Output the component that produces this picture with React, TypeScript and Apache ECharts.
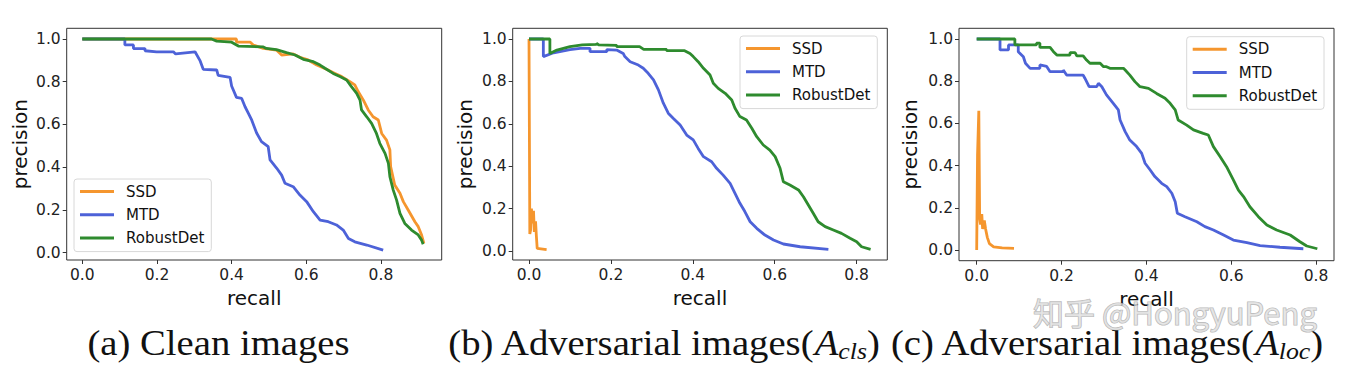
import React, { useEffect, useRef } from "react";
import * as echarts from "echarts";

const seriesNames = ["SSD", "MTD", "RobustDet"];
const xTicks = [0, 0.2, 0.4, 0.6, 0.8];
const yTicks = [0, 0.2, 0.4, 0.6, 0.8, 1.0];
const captions = ["(a) Clean images", "(b) Adversarial images(", "(c) Adversarial images("];
const subscripts = ["", "cls", "loc"];

// panel (a) clean images: [recall, precision]
const cleanSSD = [[0,1],[0.413,1],[0.413,0.985],[0.45,0.985],[0.458,0.972],[0.485,0.956],[0.52,0.948],[0.534,0.925],[0.565,0.93],[0.583,0.914],[0.605,0.902],[0.628,0.878],[0.654,0.858],[0.677,0.839],[0.695,0.824],[0.717,0.8],[0.73,0.785],[0.739,0.754],[0.753,0.714],[0.766,0.668],[0.779,0.636],[0.793,0.621],[0.802,0.558],[0.815,0.527],[0.824,0.481],[0.826,0.403],[0.837,0.317],[0.851,0.278],[0.86,0.239],[0.873,0.2],[0.891,0.145],[0.9,0.122],[0.909,0.083],[0.915,0.044]];
const cleanMTD = [[0,1],[0.114,1],[0.114,0.972],[0.137,0.972],[0.137,0.955],[0.168,0.955],[0.168,0.945],[0.199,0.94],[0.244,0.94],[0.25,0.93],[0.302,0.94],[0.315,0.9],[0.324,0.858],[0.36,0.855],[0.364,0.83],[0.396,0.82],[0.4,0.78],[0.413,0.727],[0.427,0.722],[0.436,0.683],[0.445,0.652],[0.454,0.62],[0.467,0.56],[0.48,0.52],[0.498,0.496],[0.503,0.434],[0.521,0.395],[0.534,0.363],[0.543,0.325],[0.565,0.309],[0.583,0.27],[0.601,0.239],[0.619,0.192],[0.637,0.153],[0.659,0.145],[0.681,0.13],[0.699,0.106],[0.713,0.067],[0.73,0.051],[0.762,0.036],[0.806,0.012]];
const cleanRobust = [[0,1],[0.346,1],[0.36,0.99],[0.4,0.985],[0.418,0.967],[0.485,0.963],[0.493,0.956],[0.52,0.95],[0.547,0.936],[0.57,0.925],[0.592,0.905],[0.619,0.894],[0.637,0.878],[0.65,0.863],[0.672,0.839],[0.69,0.824],[0.708,0.808],[0.721,0.777],[0.735,0.746],[0.744,0.714],[0.748,0.668],[0.762,0.636],[0.775,0.605],[0.788,0.558],[0.797,0.512],[0.811,0.465],[0.82,0.418],[0.824,0.356],[0.833,0.293],[0.842,0.246],[0.851,0.184],[0.864,0.137],[0.882,0.106],[0.9,0.083],[0.909,0.059],[0.913,0.04]];

// panel (b) adversarial A_cls
const clsSSD = [[0,1],[0.001,1],[0.002,0.08],[0.004,0.1],[0.006,0.2],[0.008,0.13],[0.011,0.19],[0.013,0.09],[0.016,0.14],[0.018,0.07],[0.02,0.012],[0.043,0.006]];
const clsMTD = [[0,1],[0.035,1],[0.035,0.917],[0.06,0.935],[0.1,0.95],[0.125,0.956],[0.149,0.956],[0.149,0.94],[0.19,0.94],[0.19,0.95],[0.214,0.948],[0.23,0.932],[0.234,0.917],[0.247,0.893],[0.267,0.877],[0.279,0.862],[0.291,0.838],[0.304,0.807],[0.316,0.76],[0.328,0.697],[0.34,0.65],[0.352,0.626],[0.369,0.594],[0.385,0.547],[0.401,0.524],[0.413,0.484],[0.426,0.445],[0.446,0.421],[0.458,0.39],[0.474,0.358],[0.491,0.319],[0.503,0.272],[0.515,0.225],[0.527,0.186],[0.54,0.138],[0.556,0.107],[0.576,0.075],[0.597,0.052],[0.621,0.033],[0.662,0.02],[0.731,0.008]];
const clsRobust = [[0,1],[0.051,1],[0.051,0.932],[0.068,0.948],[0.1,0.964],[0.13,0.972],[0.165,0.975],[0.165,0.98],[0.17,0.972],[0.214,0.97],[0.214,0.964],[0.27,0.964],[0.28,0.951],[0.336,0.951],[0.336,0.945],[0.38,0.945],[0.393,0.932],[0.401,0.917],[0.413,0.893],[0.426,0.862],[0.442,0.83],[0.45,0.791],[0.462,0.767],[0.479,0.744],[0.495,0.712],[0.503,0.673],[0.515,0.634],[0.531,0.618],[0.544,0.579],[0.556,0.539],[0.572,0.5],[0.588,0.476],[0.601,0.445],[0.613,0.39],[0.621,0.327],[0.637,0.311],[0.658,0.288],[0.67,0.256],[0.682,0.217],[0.694,0.178],[0.706,0.138],[0.723,0.115],[0.743,0.099],[0.763,0.083],[0.784,0.06],[0.8,0.044],[0.812,0.02],[0.834,0.008]];

// panel (c) adversarial A_loc
const locSSD = [[0,0],[0.002,0.45],[0.005,0.66],[0.007,0.15],[0.009,0.12],[0.012,0.17],[0.014,0.1],[0.018,0.14],[0.021,0.1],[0.025,0.06],[0.03,0.03],[0.04,0.015],[0.06,0.01],[0.088,0.008]];
const locMTD = [[0,1],[0.055,1],[0.055,0.948],[0.075,0.948],[0.075,0.972],[0.098,0.972],[0.098,0.94],[0.11,0.916],[0.115,0.885],[0.126,0.861],[0.149,0.861],[0.149,0.877],[0.165,0.87],[0.173,0.845],[0.204,0.845],[0.204,0.853],[0.212,0.829],[0.251,0.829],[0.255,0.814],[0.265,0.774],[0.283,0.774],[0.287,0.79],[0.295,0.774],[0.306,0.735],[0.322,0.695],[0.334,0.664],[0.338,0.616],[0.35,0.561],[0.361,0.521],[0.377,0.49],[0.389,0.458],[0.397,0.411],[0.409,0.379],[0.42,0.348],[0.436,0.316],[0.448,0.3],[0.46,0.269],[0.468,0.229],[0.473,0.174],[0.491,0.158],[0.519,0.134],[0.538,0.111],[0.558,0.095],[0.582,0.071],[0.605,0.047],[0.637,0.035],[0.668,0.021],[0.715,0.013],[0.77,0.006]];
const locRobust = [[0,1],[0.09,1],[0.09,0.972],[0.141,0.972],[0.141,0.98],[0.149,0.98],[0.149,0.96],[0.173,0.96],[0.181,0.94],[0.189,0.924],[0.22,0.924],[0.22,0.935],[0.232,0.935],[0.236,0.92],[0.251,0.92],[0.259,0.9],[0.267,0.885],[0.291,0.885],[0.299,0.869],[0.306,0.869],[0.314,0.861],[0.346,0.861],[0.35,0.853],[0.361,0.829],[0.373,0.798],[0.385,0.774],[0.405,0.766],[0.424,0.742],[0.444,0.719],[0.456,0.695],[0.468,0.664],[0.475,0.616],[0.495,0.592],[0.511,0.569],[0.534,0.553],[0.546,0.545],[0.558,0.49],[0.574,0.442],[0.589,0.395],[0.605,0.332],[0.617,0.284],[0.629,0.253],[0.644,0.205],[0.664,0.158],[0.684,0.118],[0.707,0.095],[0.739,0.071],[0.762,0.039],[0.778,0.019],[0.803,0.006]];

const panels = [
  [cleanSSD, cleanMTD, cleanRobust],
  [clsSSD, clsMTD, clsRobust],
  [locSSD, locMTD, locRobust],
];

const COLORS = ["#f5962e", "#4d62d8", "#2e8b2e"];

const GRIDS = [
  { left: 66.7, top: 28.3, width: 375, height: 231.7 },
  { left: 512.7, top: 28.3, width: 374.6, height: 231.7 },
  { left: 959, top: 28.3, width: 375, height: 232.4 },
];
const XR = [[-0.0418, 0.9628], [-0.0398, 0.8748], [-0.0417, 0.8423]];
const YR = [[-0.034, 1.05], [-0.0425, 1.0505], [-0.0507, 1.0507]];
const YNAMEGAP = [37, 38, 39];
const LEGENDPOS = [
  { left: 74, top: 179 },
  { left: 740, top: 36 },
  { left: 1186.7, top: 36.7 },
];
const CAPX = [218.5, 663.5, 1106.5];

export default function App() {
  const ref = useRef<HTMLDivElement>(null);
  useEffect(() => {
    if (!ref.current) return;
    const chart = echarts.init(ref.current, null, { renderer: "svg" });
    const font = "DejaVu Sans";
    const grid = GRIDS.map((g) => ({ ...g, show: true, borderColor: "#333", borderWidth: 1, backgroundColor: "transparent" }));
    const xAxis = GRIDS.map((_, i) => ({
      type: "value",
      gridIndex: i,
      min: XR[i][0],
      max: XR[i][1],
      name: "recall",
      nameLocation: "middle",
      nameGap: 26,
      nameTextStyle: { fontSize: 20, fontFamily: font, color: "#111" },
      axisLine: { show: false, onZero: false },
      axisTick: { show: true, inside: false, length: 4, customValues: xTicks, lineStyle: { color: "#333" } },
      axisLabel: { customValues: xTicks, margin: 7, fontSize: 15.5, fontFamily: font, color: "#222", formatter: (v: number) => v.toFixed(1) },
      splitLine: { show: false },
    }));
    const yAxis = GRIDS.map((_, i) => ({
      type: "value",
      gridIndex: i,
      min: YR[i][0],
      max: YR[i][1],
      name: "precision",
      nameLocation: "middle",
      nameGap: YNAMEGAP[i],
      nameTextStyle: { fontSize: 20, fontFamily: font, color: "#111" },
      axisLine: { show: false, onZero: false },
      axisTick: { show: true, inside: false, length: 4, customValues: yTicks, lineStyle: { color: "#333" } },
      axisLabel: { customValues: yTicks, margin: 6, fontSize: 15.5, fontFamily: font, color: "#222", formatter: (v: number) => v.toFixed(1) },
      splitLine: { show: false },
    }));
    const series: any[] = [];
    panels.forEach((p, i) => {
      p.forEach((data, j) => {
        series.push({
          type: "line",
          name: seriesNames[j],
          xAxisIndex: i,
          yAxisIndex: i,
          data,
          showSymbol: false,
          symbol: "none",
          lineStyle: { width: 2.8, color: COLORS[j] },
          itemStyle: { color: COLORS[j] },
          z: 2 + j,
        });
      });
    });
    const legend = LEGENDPOS.map((pos) => ({
      ...pos,
      orient: "vertical",
      data: seriesNames,
      icon: "rect",
      itemWidth: 34,
      itemHeight: 3,
      itemGap: 6.3,
      padding: [4, 7, 5, 6],
      backgroundColor: "rgba(255,255,255,0.85)",
      borderColor: "#d8d8d8",
      borderWidth: 1,
      borderRadius: 3,
      selectedMode: false,
      textStyle: { fontSize: 15, fontFamily: font, color: "#111", lineHeight: 17, padding: [0, 0, 0, 7] },
    }));
    const capFont = "Liberation Serif";
    const graphic: any[] = captions.map((c, i) => ({
      type: "text",
      x: CAPX[i],
      y: 343,
      scaleX: 1.075,
      style: {
        text: subscripts[i] ? `{m|${c}}{a|A}{s|${subscripts[i]}}{m|)}` : `{m|${c}}`,
        align: "center",
        verticalAlign: "middle",
        fill: "#111",
        rich: {
          m: { fontSize: 36, fontFamily: capFont, lineHeight: 40, fill: "#111" },
          a: { fontSize: 36, fontFamily: capFont, fontStyle: "italic", lineHeight: 40, fill: "#111" },
          s: { fontSize: 24, fontFamily: capFont, fontStyle: "italic", lineHeight: 24, verticalAlign: "bottom", fill: "#111" },
        },
      },
    }));
    graphic.push({
      type: "text",
      x: 1175,
      y: 311,
      z: 100,
      style: {
        text: "知乎 @HongyuPeng",
        align: "center",
        verticalAlign: "middle",
        fontSize: 31,
        fontFamily: "Noto Sans CJK SC",
        fill: "rgba(225,225,225,0.75)",
        stroke: "rgba(150,150,150,0.7)",
        lineWidth: 1.2,
      },
    });
    chart.setOption({
      animation: false,
      backgroundColor: "#fff",
      grid,
      xAxis,
      yAxis,
      legend,
      series,
      graphic,
    });
    return () => chart.dispose();
  }, []);
  return <div ref={ref} style={{ position: "fixed", left: 0, top: 0, width: 1348, height: 367 }} />;
}
